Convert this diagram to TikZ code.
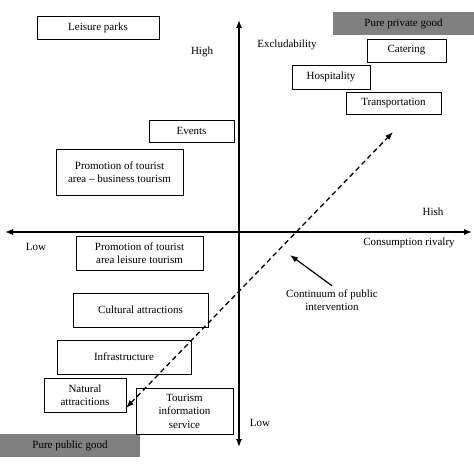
\documentclass[tikz,border=0pt]{standalone}
\usepackage{fontspec}
\setmainfont{Liberation Serif}
\usetikzlibrary{positioning, arrows.meta}

\begin{document}
\begin{tikzpicture}[
                x=1pt, y=-1pt,
                every node/.style={font=\fontsize{11}{13.5}\selectfont},
                box/.style={draw, line width=0.7pt, align=center, inner sep=0pt},
                goodbox/.style={fill=black!50, inner sep=0pt},
                axis/.style={{Latex[length=8pt]}-{Latex[length=8pt]}, line width=1.2pt},
                path/.style={{Latex[length=8pt]}-{Latex[length=8pt]}, line width=1.3pt, dash pattern=on 5pt off 3.5pt},
                edge/.style={-{Latex[length=8pt]}, line width=1.2pt},
            ]
            \useasboundingbox (0,0) rectangle (474,465);

            % Axes
            \coordinate (top) at (239,20);
            \coordinate (bottom) at (239,447);
            \coordinate (left) at (5,232);
            \coordinate (right) at (472,232);
            \draw[axis] (bottom) -- (top);
            \draw[axis] (left) -- (right);

            % Axis labels
            \node (high) at (202,52) {High};
            \node (excl) at (287,45) {Excludability};
            \node (hish) at (433,212) {Hish};
            \node (rival) at (409,243) {Consumption rivalry};
            \node (lowx) at (36,247) {Low};
            \node (lowy) at (260,423) {Low};

            % Corner boxes
            \node[goodbox, minimum width=141pt, minimum height=23pt] (private) at (403.5,23.5) {Pure private good};
            \node[goodbox, minimum width=140pt, minimum height=23pt] (public) at (70,445.5) {Pure public good};

            % Upper quadrant boxes
            \node[box, minimum width=122pt, minimum height=23pt] (parks) at (98,27.5) {Leisure parks};
            \node[box, minimum width=79pt, minimum height=23pt] (catering) at (406.5,50.5) {Catering};
            \node[box, minimum width=78pt, minimum height=24pt] (hosp) at (331,77) {Hospitality};
            \node[box, minimum width=95pt, minimum height=22pt] (transp) at (393.5,103) {Transportation};
            \node[box, minimum width=85pt, minimum height=22pt] (events) at (191.5,131) {Events};
            \node[box, minimum width=127pt, minimum height=46pt] (business) at (119.5,172) {Promotion of tourist\\area -- business tourism};

            % Lower quadrant boxes
            \node[box, minimum width=127pt, minimum height=34pt] (leisure) at (139.5,253) {Promotion of tourist\\area leisure tourism};
            \node[box, minimum width=135pt, minimum height=34pt] (cultural) at (140.5,310) {Cultural attractions};
            \node[box, minimum width=134pt, minimum height=34pt] (infra) at (124,357) {Infrastructure};
            \node[box, minimum width=82pt, minimum height=34pt] (natural) at (85,395) {Natural\\attracitions};
            \node[box, minimum width=97pt, minimum height=46pt] (info) at (184.5,411) {Tourism\\information\\service};

            % Continuum
            \coordinate (lowend) at (126,408);
            \coordinate (highend) at (393,132);
            \draw[path] (lowend) -- (highend);
            \node[align=center] (cont) at (332,300) {Continuum of public\\intervention};
            \coordinate (contip) at (290,255);
            \draw[edge] (cont.north) -- (contip);

            \end{tikzpicture}
\end{document}
